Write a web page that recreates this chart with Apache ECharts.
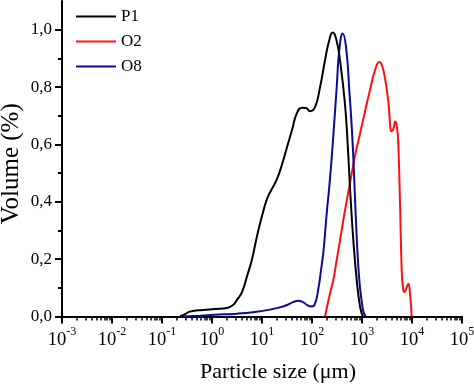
<!DOCTYPE html>
<html>
<head>
<meta charset="utf-8">
<script src="https://cdn.jsdelivr.net/npm/echarts@6/dist/echarts.min.js"></script>
<style>html,body{margin:0;padding:0;background:#fff}#c{width:474px;height:387px}</style>
</head>
<body>
<div id="c"></div>
<script>
// Particle size (µm) and volume (%) values
const p1Size = [0.229,0.288,0.363,0.661,1.148,2.0,2.63,3.16,3.98,5.01,6.31,7.94,10,12.6,15.8,20.0,25.1,31.6,39.8,50.1,63.1,75.9,91.2,115,145,182,219,259,302,363,457,525,575,670,783,912,1033];
const p1Vol  = [0,0.008,0.017,0.023,0.026,0.030,0.040,0.058,0.085,0.14,0.20,0.28,0.35,0.41,0.445,0.48,0.53,0.59,0.65,0.71,0.728,0.727,0.716,0.73,0.80,0.893,0.96,0.99,0.97,0.893,0.74,0.58,0.45,0.267,0.128,0.035,0];

const o2Size = [182,229,267,312,363,457,575,724,912,1148,1445,1820,2218,2512,2884,3357,3926,4266,4634,5012,5321,5754,6223,6607,7015,7586,8433,9120,9863];
const o2Vol  = [0,0.08,0.128,0.198,0.265,0.37,0.465,0.56,0.637,0.715,0.79,0.858,0.887,0.875,0.83,0.75,0.646,0.655,0.68,0.66,0.6,0.40,0.16,0.10,0.085,0.095,0.114,0.08,0];

const o8Size = [0.251,0.575,1.148,3.16,7.24,14.5,22.9,31.6,41.7,52.5,66.1,83.2,100,115,132,151,170,197,229,267,312,352,411,479,557,652,759,871,1000,1096,1202];
const o8Vol  = [0,0.003,0.006,0.01,0.016,0.024,0.032,0.04,0.05,0.055,0.05,0.038,0.035,0.045,0.09,0.16,0.23,0.36,0.48,0.63,0.80,0.93,0.987,0.94,0.79,0.60,0.33,0.14,0.045,0.01,0];

const seriesNames = ['P1','O2','O8'];
const seriesColors = ['#000000','#ff1010','#0a0a9a'];

const xExponents = [-3,-2,-1,0,1,2,3,4,5];
const yTicks = [0,0.2,0.4,0.6,0.8,1.0];
const yMinorTicks = [0.1,0.3,0.5,0.7,0.9];
const minorMultipliers = [2,3,4,5,6,7,8,9];

const xMinor = [];
xExponents.slice(0,-1).forEach(e => minorMultipliers.forEach(m => xMinor.push(e + Math.log10(m))));

function pairs(sizes, vols){ return sizes.map((s,i)=>[Math.log10(s), vols[i]]); }

const FONT = '"Liberation Serif","Times New Roman",serif';
const chart = echarts.init(document.getElementById('c'));
const allSizes = [p1Size,o2Size,o8Size], allVols=[p1Vol,o2Vol,o8Vol];

chart.setOption({
  animation:false,
  grid:{left:62,right:12,top:1,bottom:70.5,containLabel:false,outerBoundsMode:'none'},
  legend:{
    orient:'vertical', left:75, top:8, padding:0, itemGap:8, itemWidth:40, itemHeight:14,
    itemStyle:{opacity:0},
    textStyle:{fontFamily:FONT,fontSize:17,color:'#000'},
    data:seriesNames
  },
  xAxis:[{
    type:'value', min:-3, max:5, interval:1,
    name:'Particle size (μm)', nameLocation:'middle', nameGap:45, nameMoveOverlap:false,
    nameTextStyle:{fontFamily:FONT,fontSize:22,color:'#000',padding:[0,0,0,32]},
    axisLine:{onZero:false,lineStyle:{color:'#000',width:2}},
    axisTick:{length:7,lineStyle:{color:'#000',width:2}},
    splitLine:{show:false},
    axisLabel:{margin:9,color:'#000',
      formatter:v=>'{b|10}{s|'+v+'}',
      rich:{b:{fontFamily:FONT,fontSize:18.5,color:'#000',lineHeight:24,verticalAlign:'bottom'},
            s:{fontFamily:FONT,fontSize:12,color:'#000',lineHeight:24,verticalAlign:'top'}}}
  },{
    type:'value', min:-3, max:5, position:'bottom',
    axisLine:{show:false,onZero:false}, splitLine:{show:false}, axisLabel:{show:false},
    axisTick:{length:4,customValues:xMinor,lineStyle:{color:'#000',width:1.5}}
  }],
  yAxis:[{
    type:'value', min:0, max:1.1,
    name:'Volume (%)', nameLocation:'middle', nameGap:38, nameRotate:90, nameMoveOverlap:false,
    nameTextStyle:{fontFamily:FONT,fontSize:25,color:'#000',padding:[0,10,0,0]},
    axisLine:{show:true,onZero:false,lineStyle:{color:'#000',width:2}},
    axisTick:{show:true,length:7,customValues:yTicks,lineStyle:{color:'#000',width:2}},
    splitLine:{show:false},
    axisLabel:{customValues:yTicks,margin:10,fontFamily:FONT,fontSize:17,color:'#000',
      formatter:v=>v.toFixed(1).replace('.',',')}
  },{
    type:'value', min:0, max:1.1, position:'left',
    axisLine:{show:false,onZero:false}, splitLine:{show:false}, axisLabel:{show:false},
    axisTick:{show:true,length:4,customValues:yMinorTicks,lineStyle:{color:'#000',width:2}}
  }],
  series: seriesNames.map((n,i)=>({
    name:n, type:'line', xAxisIndex:0, yAxisIndex:0,
    data:pairs(allSizes[i],allVols[i]),
    showSymbol:false, symbol:'none', smooth:0.5,
    lineStyle:{color:seriesColors[i],width:2}, itemStyle:{color:seriesColors[i]},
    z: i===0?3:2
  }))
});
</script>
</body>
</html>
